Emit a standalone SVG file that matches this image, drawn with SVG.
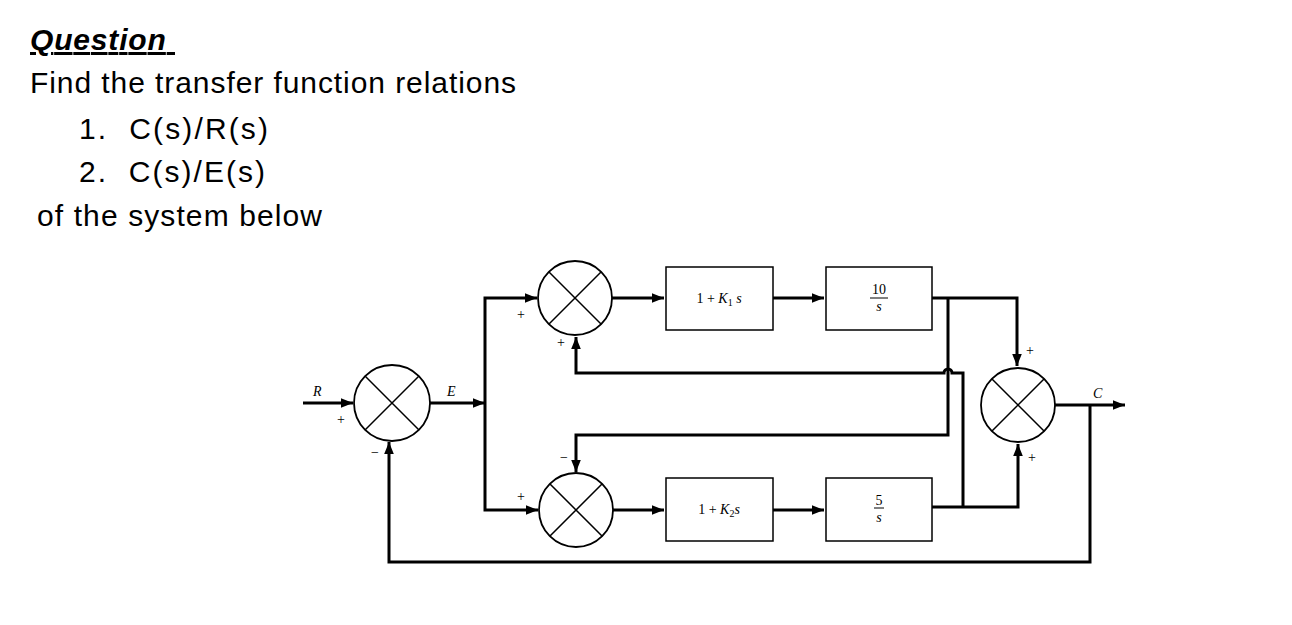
<svg xmlns="http://www.w3.org/2000/svg" width="1292" height="625" viewBox="0 0 1292 625">
<defs>
<style>
.t{font-family:"Liberation Sans",Arial,sans-serif;font-size:30px;fill:#000}
.m{font-family:"Liberation Serif","Times New Roman",serif;font-size:14px;fill:#000}
.w{fill:none;stroke:#000;stroke-width:3}
.b{fill:#fff;stroke:#000;stroke-width:1.5}
.s{fill:#fff;stroke:#000;stroke-width:1.8}
.x{stroke:#000;stroke-width:1.5}
</style>
<marker id="a" viewBox="0 0 10 10" refX="10" refY="5" markerWidth="5" markerHeight="4" orient="auto" markerUnits="strokeWidth"><path d="M0,1 L10,5 L0,9 Z" fill="#000"/></marker>
</defs>
<rect width="1292" height="625" fill="#fff"/>
<text class="t" x="30" y="50" font-weight="bold" font-style="italic" text-decoration="underline" xml:space="preserve" textLength="145">Question </text>
<text class="t" x="30" y="93" textLength="486">Find the transfer function relations</text>
<text class="t" x="79" y="139" xml:space="preserve" textLength="189">1.  C(s)/R(s)</text>
<text class="t" x="79" y="182" xml:space="preserve" textLength="186">2.  C(s)/E(s)</text>
<text class="t" x="37" y="226" textLength="285">of the system below</text>
<g id="connectors">
<path class="w" d="M303,403 H353" marker-end="url(#a)"/>
<path class="w" d="M430,403 H485" marker-end="url(#a)"/>
<path class="w" d="M485,403 V298 H537" marker-end="url(#a)"/>
<path class="w" d="M485,403 V510 H538" marker-end="url(#a)"/>
<path class="w" d="M612,298 H664" marker-end="url(#a)"/>
<path class="w" d="M773,298 H824" marker-end="url(#a)"/>
<path class="w" d="M613,510 H664" marker-end="url(#a)"/>
<path class="w" d="M773,510 H824" marker-end="url(#a)"/>
<path class="w" d="M931,298 H1017 V366" marker-end="url(#a)"/>
<path class="w" d="M948,298 V435 H576 V472" marker-end="url(#a)"/>
<path class="w" d="M963,507 V373 H952 a4,4 0 0 0 -8,0 H576 V337" marker-end="url(#a)"/>
<path class="w" d="M931,507 H1018 V444" marker-end="url(#a)"/>
<path class="w" d="M1055,405 H1125" marker-end="url(#a)"/>
<path class="w" d="M1090,405 V562 H389 V442" marker-end="url(#a)"/>
</g>
<g id="sumR"><circle class="s" cx="392" cy="403" r="38"/><path class="x" d="M365,376 L419,430 M419,376 L365,430"/></g>
<g id="sumTop"><circle class="s" cx="575" cy="298" r="37"/><path class="x" d="M549,272 L601,324 M601,272 L549,324"/></g>
<g id="sumBot"><circle class="s" cx="576" cy="510" r="37"/><path class="x" d="M550,484 L602,536 M602,484 L550,536"/></g>
<g id="sumOut"><circle class="s" cx="1018" cy="405" r="37"/><path class="x" d="M992,379 L1044,431 M1044,379 L992,431"/></g>
<g id="k1"><rect class="b" x="666" y="267" width="107" height="63"/><text class="m" x="719" y="303" text-anchor="middle">1 + <tspan font-style="italic">K</tspan><tspan font-size="10" dy="3">1</tspan><tspan dy="-3" font-style="italic"> s</tspan></text></g>
<g id="g10"><rect class="b" x="826" y="267" width="106" height="63"/><text class="m" x="879" y="294" text-anchor="middle">10</text><line x1="870" y1="298" x2="888" y2="298" stroke="#000" stroke-width="1"/><text class="m" x="879" y="311" text-anchor="middle" font-style="italic">s</text></g>
<g id="k2"><rect class="b" x="666" y="478" width="107" height="63"/><text class="m" x="719" y="514" text-anchor="middle">1 + <tspan font-style="italic">K</tspan><tspan font-size="10" dy="3">2</tspan><tspan dy="-3" font-style="italic">s</tspan></text></g>
<g id="g5"><rect class="b" x="826" y="478" width="106" height="63"/><text class="m" x="879" y="505" text-anchor="middle">5</text><line x1="874" y1="508" x2="884" y2="508" stroke="#000" stroke-width="1"/><text class="m" x="879" y="522" text-anchor="middle" font-style="italic">s</text></g>
<g id="labels">
<text class="m" x="313" y="396" font-style="italic">R</text>
<text class="m" x="447" y="396" font-style="italic">E</text>
<text class="m" x="1093" y="398" font-style="italic">C</text>
<text class="m" x="337" y="424">+</text>
<text class="m" x="371" y="457">−</text>
<text class="m" x="517" y="319">+</text>
<text class="m" x="557" y="347">+</text>
<text class="m" x="517" y="501">+</text>
<text class="m" x="560" y="462">−</text>
<text class="m" x="1026" y="355">+</text>
<text class="m" x="1028" y="462">+</text>
</g>
</svg>
